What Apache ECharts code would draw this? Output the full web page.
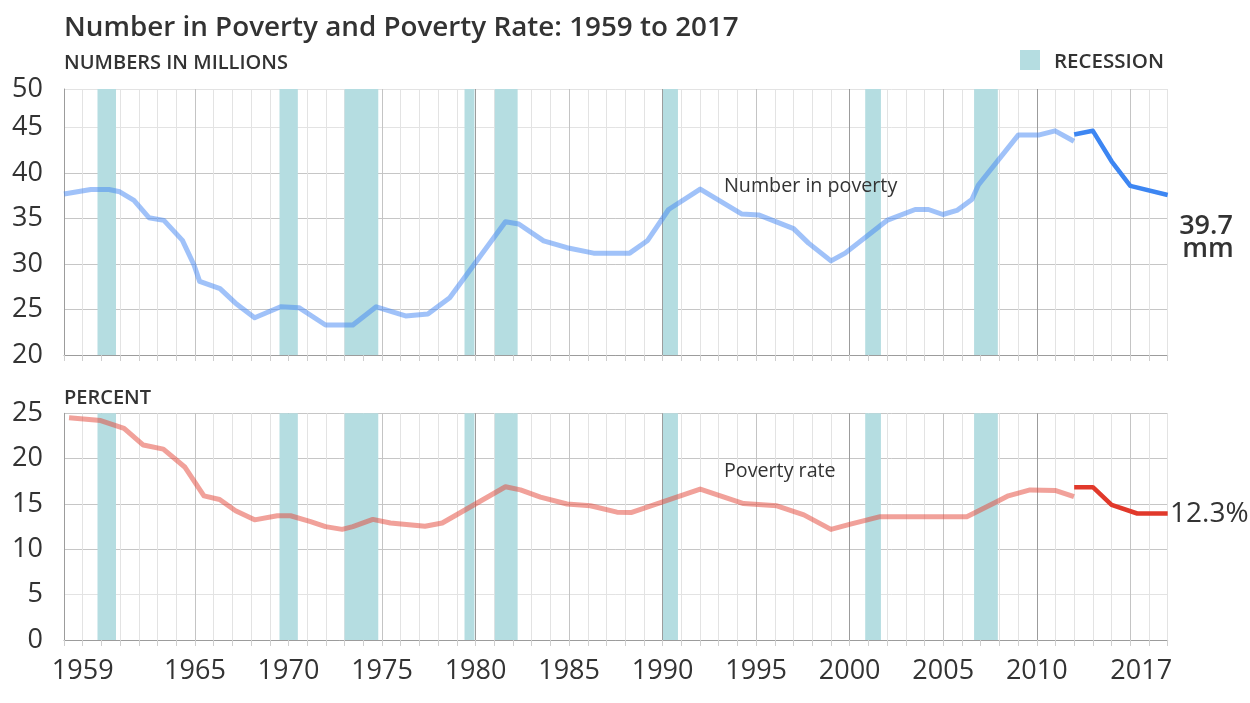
<!DOCTYPE html>
<html><head><meta charset="utf-8">
<script src="https://cdn.jsdelivr.net/npm/echarts@6/dist/echarts.min.js"></script>
<style>html,body{margin:0;padding:0;background:#fff}#c{width:1250px;height:703px}</style>
</head><body><div id="c"></div>
<script>
// ---- data ----
const numYearsHist = [1958.0,1959.43,1960.41,1960.98,1961.74,1962.54,1963.34,1964.33,1964.95,1965.25,1966.34,1967.17,1968.19,1969.58,1970.56,1971.98,1973.44,1974.69,1976.26,1977.45,1978.62,1981.60,1982.31,1983.64,1984.89,1986.31,1988.24,1989.20,1990.32,1992.01,1994.24,1995.13,1997.00,1997.80,1999.00,1999.76,2001.99,2003.50,2004.21,2004.98,2005.73,2006.53,2006.88,2009.02,2010.14,2010.98,2011.99];
const numValuesHist = [37.7,38.2,38.2,37.95,37.0,35.1,34.8,32.6,29.9,28.1,27.3,25.7,24.1,25.3,25.2,23.3,23.3,25.3,24.3,24.5,26.3,34.65,34.4,32.55,31.8,31.2,31.2,32.6,36.0,38.25,35.5,35.4,33.9,32.3,30.35,31.2,34.8,36.0,36.0,35.45,35.9,37.1,38.7,44.2,44.2,44.65,43.5];
const numYearsRecent = [2012,2013,2014,2015,2017];
const numValuesRecent = [44.25,44.65,41.3,38.6,37.6];

const rateYearsHist = [1958.27,1959.96,1961.21,1962.24,1963.31,1964.47,1965.48,1966.32,1967.17,1968.19,1969.40,1970.11,1971.18,1971.98,1972.87,1973.44,1974.51,1975.45,1977.30,1978.22,1981.60,1982.40,1983.47,1984.89,1986.14,1987.56,1988.31,1992.01,1994.33,1996.11,1997.55,1999.00,1999.99,2001.63,2006.26,2007.86,2008.48,2009.64,2010.98,2011.99];
const rateValuesHist = [24.5,24.2,23.35,21.5,21.05,19.05,15.9,15.5,14.25,13.25,13.7,13.7,13.05,12.5,12.2,12.5,13.3,12.9,12.55,12.9,16.9,16.55,15.75,15.0,14.8,14.1,14.05,16.65,15.05,14.8,13.8,12.2,12.75,13.6,13.6,15.25,15.9,16.55,16.5,15.8];
const rateYearsRecent = [2012,2013,2014,2015.37,2017];
const rateValuesRecent = [16.85,16.85,14.9,13.95,13.95];

const recessionStart = [1959.79,1969.52,1973.0,1979.41,1981.03,1990.02,2000.83,2006.65];
const recessionEnd   = [1960.78,1970.50,1974.80,1979.94,1982.25,1990.82,2001.67,2007.92];

const xLabelYears = [1959,1965,1970,1975,1980,1985,1990,1995,2000,2005,2010,2017];
const numTickValues = [20,25,30,35,40,45];
const numTopLabel = '50';
const rateTickValues = [0,5,10,15,20,25];

// ---- styling ----
const FONT = 'Open Sans';
const TXT = '#333333';
const BAND = '#b5dde1';
const pairs = (xs, ys) => xs.map((x, i) => [x, ys[i]]);
const bands = recessionStart.map((s, i) => [{xAxis: s}, {xAxis: recessionEnd[i]}]);

// vertical grid colours, cycling from 1958
const vMinor = '#e3e3e3', vMid = '#c4c4c4', vMajor = '#9c9c9c';
const vColors = [vMinor, vMinor, vMajor, vMinor, vMinor, vMinor, vMinor, vMid, vMinor, vMinor];
const hMain = '#c6c6c6', hLight = '#e3e3e3';

function xAxisFor(gridIndex, showLabels) {
  return {
    type: 'value', gridIndex, min: 1958, max: 2017, interval: 1,
    axisLine: {show: true, lineStyle: {color: '#9c9c9c', width: 1}},
    axisTick: {show: true, length: 6, lineStyle: {color: '#cfcfcf'}},
    splitLine: {show: true, lineStyle: {color: vColors, width: 1}},
    axisLabel: {
      show: showLabels, interval: 0, margin: 18, fontFamily: FONT, fontSize: 27, color: TXT,
      showMinLabel: true, showMaxLabel: true,
      formatter: v => {
        if (!xLabelYears.includes(v)) return '';
        return v === 2017 ? '{s|' + v + '}' : String(v);
      },
      rich: {s: {fontFamily: FONT, fontSize: 27, color: TXT, padding: [0, 53, 0, 0]}}
    }
  };
}

function txt(text, x, y, size, weight, align) {
  return {type: 'text', z: 100, x, y, style: {text, fontFamily: FONT, fontSize: size, fontWeight: weight || 'normal',
          fill: TXT, align: align || 'left', verticalAlign: 'middle'}};
}

const option = {
  animation: false,
  backgroundColor: '#ffffff',
  grid: [
    {left: 64, top: 89, width: 1103.7, height: 266, containLabel: false},
    {left: 64, top: 413.3, width: 1103.7, height: 226.7, containLabel: false}
  ],
  xAxis: [xAxisFor(0, false), xAxisFor(1, true)],
  yAxis: [
    {
      type: 'value', gridIndex: 0, min: 20, max: 49.25, interval: 5,
      axisLine: {show: true, lineStyle: {color: '#9c9c9c'}},
      axisTick: {show: false},
      splitLine: {show: true, lineStyle: {color: [hMain, hMain, hMain, hMain, hMain, hLight, hLight]}},
      axisLabel: {
        margin: 21, fontFamily: FONT, fontSize: 27, color: TXT, showMaxLabel: true,
        formatter: v => numTickValues.includes(v) ? String(v) : numTopLabel
      }
    },
    {
      type: 'value', gridIndex: 1, min: 0, max: 25, interval: 5,
      axisLine: {show: true, lineStyle: {color: '#9c9c9c'}},
      axisTick: {show: false},
      splitLine: {show: true, lineStyle: {color: [hMain, hLight, hMain, hMain, hMain, hMain]}},
      axisLabel: {
        margin: 21, fontFamily: FONT, fontSize: 27, color: TXT, showMaxLabel: true,
        formatter: v => rateTickValues.includes(v) ? String(v) : ''
      }
    }
  ],
  series: [
    {type: 'line', name: 'RECESSION', xAxisIndex: 0, yAxisIndex: 0, data: [], silent: true,
     markArea: {silent: true, itemStyle: {color: BAND}, data: bands}},
    {type: 'line', name: 'RECESSION', xAxisIndex: 1, yAxisIndex: 1, data: [], silent: true,
     markArea: {silent: true, itemStyle: {color: BAND}, data: bands}},
    {type: 'line', name: 'Number in poverty', xAxisIndex: 0, yAxisIndex: 0, symbol: 'none',
     data: pairs(numYearsHist, numValuesHist),
     lineStyle: {color: 'rgba(66,133,244,0.5)', width: 5, join: 'round'}},
    {type: 'line', name: 'Number in poverty (recent)', xAxisIndex: 0, yAxisIndex: 0, symbol: 'none',
     data: pairs(numYearsRecent, numValuesRecent),
     lineStyle: {color: '#3d86f2', width: 4.5, join: 'round'}},
    {type: 'line', name: 'Poverty rate', xAxisIndex: 1, yAxisIndex: 1, symbol: 'none',
     data: pairs(rateYearsHist, rateValuesHist),
     lineStyle: {color: 'rgba(227,67,53,0.5)', width: 5, join: 'round'}},
    {type: 'line', name: 'Poverty rate (recent)', xAxisIndex: 1, yAxisIndex: 1, symbol: 'none',
     data: pairs(rateYearsRecent, rateValuesRecent),
     lineStyle: {color: '#e1392b', width: 4.5, join: 'round'}}
  ],
  graphic: [
    txt('Number in Poverty and Poverty Rate: 1959 to 2017', 64, 28, 27.8, 600),
    txt('NUMBERS IN MILLIONS', 64, 63.5, 20, 600),
    txt('PERCENT', 64, 398.5, 20, 600),
    {type: 'rect', z: 100, x: 1020, y: 50, shape: {width: 20, height: 20}, style: {fill: BAND}},
    txt('RECESSION', 1054, 62, 20.5, 600),
    txt('Number in poverty', 724, 186.5, 19.7, 'normal'),
    txt('Poverty rate', 724, 471.5, 19.7, 'normal'),
    txt('39.7', 1206, 226.5, 27, 600, 'center'),
    txt('mm', 1208, 249.5, 27, 600, 'center'),
    txt('12.3%', 1170, 514, 28, 'normal')
  ]
};
const chart = echarts.init(document.getElementById('c'));
chart.setOption(option);
</script>
</body></html>
